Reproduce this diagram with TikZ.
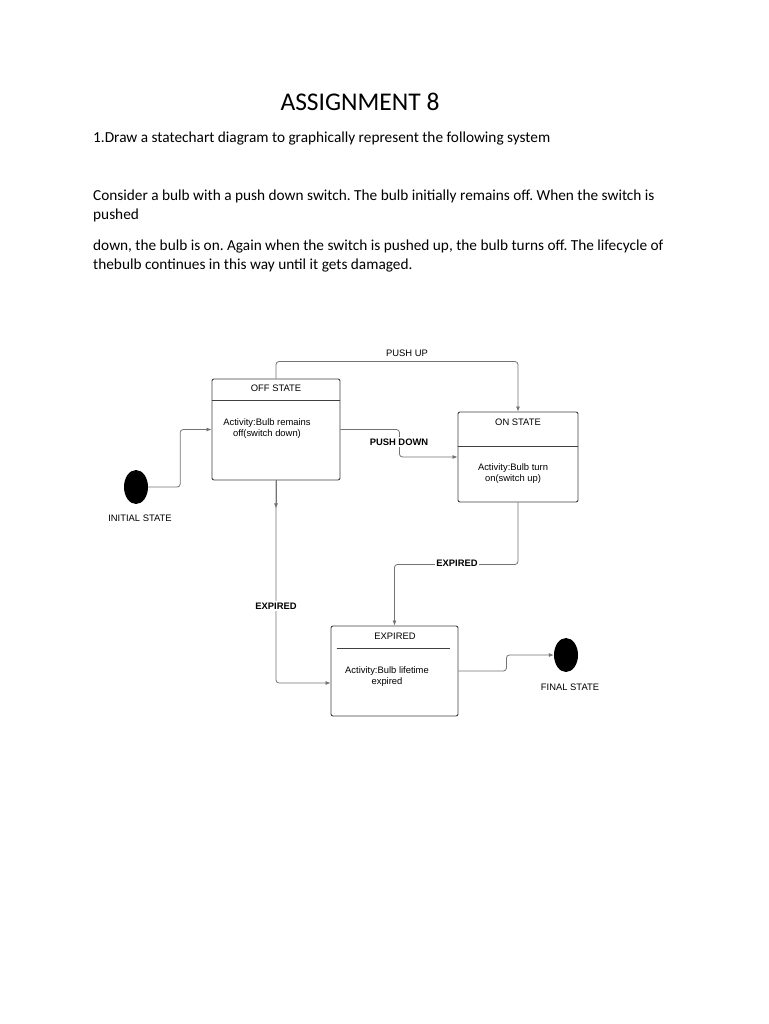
\documentclass[tikz,border=0pt]{standalone}
\usepackage{fontspec}
\setmainfont{Carlito}
\newfontfamily\diagfont{Liberation Sans}
\usetikzlibrary{arrows.meta,calc,shapes.geometric}
\frenchspacing

\tikzstyle{para}  = [anchor=base west, inner sep=0pt, font=\fontsize{15.3}{18}\selectfont]
\tikzstyle{state} = [draw=black!75, line width=0.9pt, rounded corners=2pt]
\tikzstyle{stext} = [inner sep=0pt, align=center, font=\diagfont\fontsize{9.4}{11}\selectfont]
\tikzstyle{lbl}   = [fill=white, inner sep=1.5pt, font=\diagfont\fontsize{9.4}{11}\selectfont]
\tikzstyle{bold}  = [font=\diagfont\bfseries\fontsize{9.4}{11}\selectfont]
\tikzstyle{dot}   = [ellipse, fill=black, minimum width=24pt, minimum height=34pt, inner sep=0pt]
\tikzstyle{line}  = [draw=black!55, line width=0.8pt, rounded corners=3pt,
                     -{Latex[length=5pt,width=4pt]}]

\begin{document}
\begin{tikzpicture}[x=1pt,y=-1pt]
  \useasboundingbox[fill=white] (0,0) rectangle (768,1024);

  \node[anchor=base, inner sep=0pt, font=\fontsize{25.5}{29}\selectfont] at (360,111) (head) {ASSIGNMENT 8};
  \node[para] at (93,143) (task) {1.Draw a statechart diagram to graphically represent the following system};
  \node[para] at (93,201) (txta) {Consider a bulb with a push down switch. The bulb initially remains off. When the switch is};
  \node[para] at (93,219) (txtb) {pushed};
  \node[para] at (93,250) (txtc) {down, the bulb is on. Again when the switch is pushed up, the bulb turns off. The lifecycle of};
  \node[para] at (93,269) (txtd) {thebulb continues in this way until it gets damaged.};

  % states
  \node[state, minimum width=128pt, minimum height=101pt] at (276,429.5) (off) {};
  \node[stext] at (276,388) (offt) {OFF STATE};
  \node[stext] at (267,428.5) (offa) {Activity:Bulb remains\\off(switch down)};
  \draw[state] ($(off.north west)+(0,22)$) -- ($(off.north east)+(0,22)$);

  \node[state, minimum width=120pt, minimum height=90pt] at (518,457) (on) {};
  \node[stext] at (518,422) (ont) {ON STATE};
  \node[stext] at (513,473.5) (ona) {Activity:Bulb turn\\on(switch up)};
  \draw[state] ($(on.north west)+(0,35)$) -- ($(on.north east)+(0,35)$);

  \node[state, minimum width=127pt, minimum height=90pt] at (394.5,671) (exp) {};
  \node[stext] at (395,636) (expt) {EXPIRED};
  \node[stext] at (387,676.5) (expa) {Activity:Bulb lifetime\\expired};
  \draw[state] ($(exp.north west)+(6,23)$) -- ($(exp.north east)+(-8,23)$);

  \node[dot] at (136,487) (init) {};
  \node[stext] at (140,518) (initl) {INITIAL STATE};
  \node[dot] at (566,655) (fin) {};
  \node[stext] at (570,687) (finl) {FINAL STATE};

  % transitions
  \draw[line] (init.east) -- +(32,0) |- (off.west);
  \draw[line] (off.north) -- +(0,-17) -| (on.north);
  \node[lbl] at (407,353) (pup) {PUSH UP};
  \draw[line] (off.east) -- +(59,0) |- (on.west);
  \node[lbl, bold] at (399,442) (pdown) {PUSH DOWN};
  \draw[line] (on.south) -- +(0,62) -| (exp.north);
  \node[lbl, bold] at (457,563) (expc) {EXPIRED};
  \draw[line] (off.south) -- +(0,28);
  \draw[line] (off.south) |- ($(exp.west)+(0,12)$);
  \node[lbl, bold] at (276,606) (expb) {EXPIRED};
  \draw[line] (exp.east) -- +(48,0) |- (fin.west);
\end{tikzpicture}
\end{document}
